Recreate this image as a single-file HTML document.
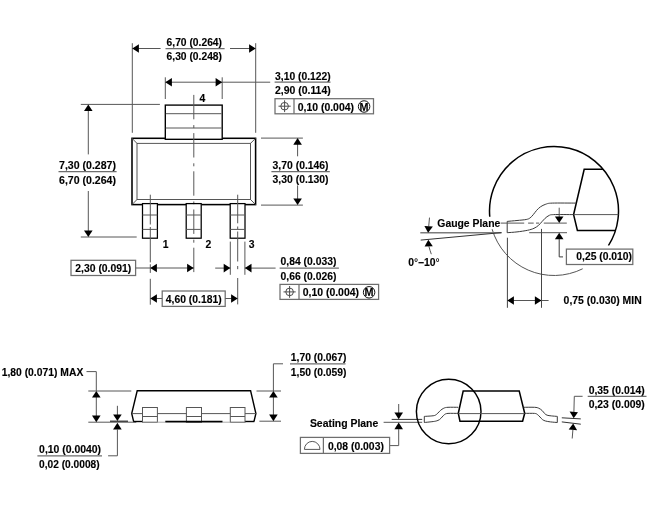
<!DOCTYPE html>
<html><head><meta charset="utf-8"><title>Package drawing</title>
<style>
html,body{margin:0;padding:0;background:#fff;}
body{width:650px;height:509px;overflow:hidden;}
svg{display:block;}
text{font-family:"Liberation Sans",sans-serif;font-weight:bold;fill:#000;stroke:#000;stroke-width:0.12px;}
</style></head><body>
<svg width="650" height="509" viewBox="0 0 650 509">
<rect x="0" y="0" width="650" height="509" fill="#fff"/>
<defs><filter id="bl" x="0" y="0" width="650" height="509" filterUnits="userSpaceOnUse"><feGaussianBlur stdDeviation="0.32"/></filter></defs>
<g filter="url(#bl)">
<rect x="0" y="0" width="650" height="509" fill="#fff"/>
<line x1="132.3" y1="43.2" x2="132.3" y2="132.8" stroke="#575757" stroke-width="1.0" />
<line x1="255.7" y1="43.2" x2="255.7" y2="132.8" stroke="#575757" stroke-width="1.0" />
<line x1="132.3" y1="48.5" x2="160.6" y2="48.5" stroke="#575757" stroke-width="1.0" />
<line x1="230" y1="48.5" x2="255.7" y2="48.5" stroke="#575757" stroke-width="1.0" />
<polygon points="132.30,48.50 138.90,44.20 138.90,52.80" fill="#000"/>
<polygon points="255.70,48.50 249.10,44.20 249.10,52.80" fill="#000"/>
<text x="166.6" y="46.3" font-size="10.4" text-anchor="start" textLength="55.4" lengthAdjust="spacingAndGlyphs">6,70 (0.264)</text>
<line x1="165.5" y1="48.5" x2="224.6" y2="48.5" stroke="#6e6e6e" stroke-width="1.25" />
<text x="166.6" y="60.3" font-size="10.4" text-anchor="start" textLength="55.4" lengthAdjust="spacingAndGlyphs">6,30 (0.248)</text>
<line x1="165.3" y1="77.3" x2="165.3" y2="99" stroke="#575757" stroke-width="1.0" />
<line x1="222.2" y1="77.3" x2="222.2" y2="99" stroke="#575757" stroke-width="1.0" />
<line x1="165.3" y1="82.2" x2="270.2" y2="82.2" stroke="#575757" stroke-width="1.0" />
<polygon points="165.30,82.20 171.90,77.90 171.90,86.50" fill="#000"/>
<polygon points="222.20,82.20 215.60,77.90 215.60,86.50" fill="#000"/>
<text x="275.1" y="79.7" font-size="10.4" text-anchor="start" textLength="55.7" lengthAdjust="spacingAndGlyphs">3,10 (0.122)</text>
<line x1="274.6" y1="82.2" x2="330.5" y2="82.2" stroke="#6e6e6e" stroke-width="1.25" />
<text x="275.0" y="94.3" font-size="10.4" text-anchor="start" textLength="55.7" lengthAdjust="spacingAndGlyphs">2,90 (0.114)</text>
<rect x="275" y="98.7" width="98.5" height="15.1" stroke="#6e6e6e" stroke-width="1.25" fill="none"/>
<line x1="294" y1="98.7" x2="294" y2="113.8" stroke="#6e6e6e" stroke-width="1.25" />
<circle cx="284.6" cy="106.2" r="3.8" stroke="#4a4a4a" stroke-width="1" fill="none"/>
<line x1="278.5" y1="106.2" x2="290.70000000000005" y2="106.2" stroke="#4a4a4a" stroke-width="1.0" />
<line x1="284.6" y1="100.3" x2="284.6" y2="112.10000000000001" stroke="#4a4a4a" stroke-width="1.0" />
<text x="297.7" y="110.5" font-size="10.4" text-anchor="start" textLength="56.3" lengthAdjust="spacingAndGlyphs">0,10 (0.004)</text>
<circle cx="364.1" cy="106.5" r="5.75" stroke="#111" stroke-width="1.0" fill="none"/>
<text x="363.9" y="110.6" font-size="10.8" text-anchor="middle">M</text>
<text x="199.6" y="101.8" font-size="10.4" text-anchor="start">4</text>
<rect x="132" y="138.3" width="123.6" height="66.3" stroke="#000" stroke-width="1.55" fill="none"/>
<rect x="137" y="143.4" width="113.5" height="56.1" stroke="#575757" stroke-width="1.0" fill="none"/>
<line x1="132" y1="138.3" x2="137" y2="143.4" stroke="#575757" stroke-width="1.0" />
<line x1="255.6" y1="138.3" x2="250.5" y2="143.4" stroke="#575757" stroke-width="1.0" />
<line x1="132" y1="204.6" x2="137" y2="199.5" stroke="#575757" stroke-width="1.0" />
<line x1="255.6" y1="204.6" x2="250.5" y2="199.5" stroke="#575757" stroke-width="1.0" />
<rect x="165.3" y="105.1" width="56.9" height="34.2" stroke="#000" stroke-width="1.35" fill="#fff"/>
<line x1="165.9" y1="113.7" x2="221.6" y2="113.7" stroke="#575757" stroke-width="1.0" />
<line x1="165.9" y1="128" x2="221.6" y2="128" stroke="#575757" stroke-width="1.0" />
<line x1="193.8" y1="94.9" x2="193.8" y2="272.8" stroke="#575757" stroke-width="1.0" stroke-dasharray="24.4 5.8 3 5"/>
<rect x="142.5" y="203.6" width="14.9" height="34.6" stroke="#000" stroke-width="1.25" fill="#fff"/>
<line x1="142.5" y1="215" x2="157.4" y2="215" stroke="#575757" stroke-width="1.0" />
<line x1="142.5" y1="229.4" x2="157.4" y2="229.4" stroke="#575757" stroke-width="1.0" />
<rect x="186.2" y="203.6" width="15.0" height="34.6" stroke="#000" stroke-width="1.25" fill="#fff"/>
<line x1="186.2" y1="215" x2="201.2" y2="215" stroke="#575757" stroke-width="1.0" />
<line x1="186.2" y1="229.4" x2="201.2" y2="229.4" stroke="#575757" stroke-width="1.0" />
<rect x="230.2" y="203.6" width="14.8" height="34.6" stroke="#000" stroke-width="1.25" fill="#fff"/>
<line x1="230.2" y1="215" x2="245" y2="215" stroke="#575757" stroke-width="1.0" />
<line x1="230.2" y1="229.4" x2="245" y2="229.4" stroke="#575757" stroke-width="1.0" />
<clipPath id="l2"><rect x="187" y="204.5" width="13.4" height="33"/></clipPath>
<line x1="193.8" y1="94.9" x2="193.8" y2="272.8" stroke="#575757" stroke-width="1.0" stroke-dasharray="24.4 5.8 3 5" clip-path="url(#l2)"/>
<line x1="150.3" y1="194.7" x2="150.3" y2="224.5" stroke="#575757" stroke-width="1.0" />
<line x1="150.3" y1="227" x2="150.3" y2="262.4" stroke="#575757" stroke-width="1.0" />
<line x1="150.3" y1="264.3" x2="150.3" y2="272.9" stroke="#575757" stroke-width="1.0" />
<line x1="150.3" y1="278.8" x2="150.3" y2="304.7" stroke="#575757" stroke-width="1.0" />
<line x1="237.7" y1="194.7" x2="237.7" y2="223.3" stroke="#575757" stroke-width="1.0" />
<line x1="237.7" y1="226.5" x2="237.7" y2="229" stroke="#575757" stroke-width="1.0" />
<line x1="237.7" y1="231.5" x2="237.7" y2="261.5" stroke="#575757" stroke-width="1.0" />
<line x1="237.7" y1="266" x2="237.7" y2="269.2" stroke="#575757" stroke-width="1.0" />
<line x1="237.7" y1="278" x2="237.7" y2="304.4" stroke="#575757" stroke-width="1.0" />
<line x1="230.3" y1="241.6" x2="230.3" y2="274.8" stroke="#575757" stroke-width="1.0" />
<line x1="244.9" y1="241.6" x2="244.9" y2="274.8" stroke="#575757" stroke-width="1.0" />
<text x="162.8" y="247.9" font-size="10.4" text-anchor="start">1</text>
<text x="205.6" y="247.9" font-size="10.4" text-anchor="start">2</text>
<text x="248.7" y="247.9" font-size="10.4" text-anchor="start">3</text>
<line x1="80.8" y1="104.4" x2="159.9" y2="104.4" stroke="#575757" stroke-width="1.0" />
<line x1="80.8" y1="237" x2="136.7" y2="237" stroke="#575757" stroke-width="1.0" />
<line x1="88.3" y1="110" x2="88.3" y2="154.4" stroke="#575757" stroke-width="1.0" />
<line x1="88.3" y1="191" x2="88.3" y2="231" stroke="#575757" stroke-width="1.0" />
<polygon points="88.30,104.40 84.00,111.00 92.60,111.00" fill="#000"/>
<polygon points="88.30,237.00 84.00,230.40 92.60,230.40" fill="#000"/>
<text x="59.0" y="168.6" font-size="10.4" text-anchor="start" textLength="57" lengthAdjust="spacingAndGlyphs">7,30 (0.287)</text>
<line x1="58.5" y1="171.7" x2="116.6" y2="171.7" stroke="#6e6e6e" stroke-width="1.25" />
<text x="59.0" y="183.5" font-size="10.4" text-anchor="start" textLength="57" lengthAdjust="spacingAndGlyphs">6,70 (0.264)</text>
<line x1="261" y1="138.1" x2="302.9" y2="138.1" stroke="#575757" stroke-width="1.0" />
<line x1="261" y1="205.1" x2="302.9" y2="205.1" stroke="#575757" stroke-width="1.0" />
<line x1="297.6" y1="144" x2="297.6" y2="156.3" stroke="#575757" stroke-width="1.0" />
<line x1="297.6" y1="185.4" x2="297.6" y2="199" stroke="#575757" stroke-width="1.0" />
<polygon points="297.60,138.10 293.30,144.70 301.90,144.70" fill="#000"/>
<polygon points="297.60,205.10 293.30,198.50 301.90,198.50" fill="#000"/>
<text x="272.6" y="169.0" font-size="10.4" text-anchor="start" textLength="56" lengthAdjust="spacingAndGlyphs">3,70 (0.146)</text>
<line x1="271.4" y1="171.5" x2="329.8" y2="171.5" stroke="#6e6e6e" stroke-width="1.25" />
<text x="272.6" y="182.8" font-size="10.4" text-anchor="start" textLength="56" lengthAdjust="spacingAndGlyphs">3,30 (0.130)</text>
<rect x="71" y="260.3" width="64.6" height="15.2" stroke="#6e6e6e" stroke-width="1.25" fill="none"/>
<text x="75.3" y="272.0" font-size="10.4" text-anchor="start" textLength="56" lengthAdjust="spacingAndGlyphs">2,30 (0.091)</text>
<line x1="135.6" y1="268" x2="194" y2="268" stroke="#575757" stroke-width="1.0" />
<polygon points="150.30,268.00 156.90,263.70 156.90,272.30" fill="#000"/>
<polygon points="193.70,268.00 187.10,263.70 187.10,272.30" fill="#000"/>
<rect x="162.2" y="291" width="63.0" height="15.4" stroke="#6e6e6e" stroke-width="1.25" fill="none"/>
<text x="165.8" y="302.8" font-size="10.4" text-anchor="start" textLength="55.8" lengthAdjust="spacingAndGlyphs">4,60 (0.181)</text>
<line x1="150.3" y1="298.5" x2="162.2" y2="298.5" stroke="#575757" stroke-width="1.0" />
<line x1="225.2" y1="298.5" x2="237.7" y2="298.5" stroke="#575757" stroke-width="1.0" />
<polygon points="150.30,298.50 156.90,294.20 156.90,302.80" fill="#000"/>
<polygon points="237.70,298.50 231.10,294.20 231.10,302.80" fill="#000"/>
<line x1="215.2" y1="268.1" x2="230.3" y2="268.1" stroke="#575757" stroke-width="1.0" />
<line x1="244.9" y1="268.1" x2="275.6" y2="268.1" stroke="#575757" stroke-width="1.0" />
<polygon points="230.30,268.10 223.70,263.80 223.70,272.40" fill="#000"/>
<polygon points="244.90,268.10 251.50,263.80 251.50,272.40" fill="#000"/>
<text x="280.6" y="265.1" font-size="10.4" text-anchor="start" textLength="55.8" lengthAdjust="spacingAndGlyphs">0,84 (0.033)</text>
<line x1="279.6" y1="268.1" x2="338.9" y2="268.1" stroke="#6e6e6e" stroke-width="1.25" />
<text x="280.6" y="279.8" font-size="10.4" text-anchor="start" textLength="55.8" lengthAdjust="spacingAndGlyphs">0,66 (0.026)</text>
<rect x="280" y="284.4" width="98.6" height="15.0" stroke="#6e6e6e" stroke-width="1.25" fill="none"/>
<line x1="299" y1="284.4" x2="299" y2="299.4" stroke="#6e6e6e" stroke-width="1.25" />
<circle cx="289.6" cy="291.9" r="3.8" stroke="#4a4a4a" stroke-width="1" fill="none"/>
<line x1="283.5" y1="291.9" x2="295.70000000000005" y2="291.9" stroke="#4a4a4a" stroke-width="1.0" />
<line x1="289.6" y1="286.0" x2="289.6" y2="297.79999999999995" stroke="#4a4a4a" stroke-width="1.0" />
<text x="302.7" y="296.0" font-size="10.4" text-anchor="start" textLength="56.3" lengthAdjust="spacingAndGlyphs">0,10 (0.004)</text>
<circle cx="369.1" cy="292.3" r="5.75" stroke="#111" stroke-width="1.0" fill="none"/>
<text x="368.9" y="296.1" font-size="10.8" text-anchor="middle">M</text>
<line x1="88.3" y1="391" x2="131.3" y2="391" stroke="#575757" stroke-width="1.0" />
<line x1="88.3" y1="422.2" x2="136.3" y2="422.2" stroke="#575757" stroke-width="1.0" />
<path d="M86.5,371.6 H96.3 V391" stroke="#575757" stroke-width="1.0" fill="none" />
<line x1="96.3" y1="397" x2="96.3" y2="416" stroke="#575757" stroke-width="1.0" />
<polygon points="96.30,391.00 92.00,397.60 100.60,397.60" fill="#000"/>
<polygon points="96.30,422.20 92.00,415.60 100.60,415.60" fill="#000"/>
<text x="1.7" y="376.3" font-size="10.4" text-anchor="start" textLength="81.6" lengthAdjust="spacingAndGlyphs">1,80 (0.071) MAX</text>
<line x1="110" y1="421.2" x2="128" y2="421.2" stroke="#222" stroke-width="1.2" />
<line x1="117.4" y1="405.8" x2="117.4" y2="415" stroke="#575757" stroke-width="1.0" />
<polygon points="117.40,421.00 113.10,414.40 121.70,414.40" fill="#000"/>
<polygon points="117.40,422.80 113.10,429.40 121.70,429.40" fill="#000"/>
<path d="M117.4,429 V455.8 H108.1" stroke="#575757" stroke-width="1.0" fill="none" />
<text x="39.1" y="453.1" font-size="10.4" text-anchor="start" textLength="62" lengthAdjust="spacingAndGlyphs">0,10 (0.0040)</text>
<line x1="37.4" y1="455.8" x2="102" y2="455.8" stroke="#6e6e6e" stroke-width="1.25" />
<text x="39.1" y="467.9" font-size="10.4" text-anchor="start" textLength="60.5" lengthAdjust="spacingAndGlyphs">0,02 (0.0008)</text>
<path d="M133.6,421.4 L131.7,413.5 L137.2,390.8 H250.6 L255.9,413.5 L254,421.4" stroke="#000" stroke-width="1.4" fill="none" stroke-linejoin="miter"/>
<line x1="133.2" y1="421.5" x2="142.5" y2="421.5" stroke="#000" stroke-width="1.4" />
<line x1="245" y1="421.5" x2="254.4" y2="421.5" stroke="#000" stroke-width="1.4" />
<line x1="131.7" y1="413.6" x2="142.5" y2="413.6" stroke="#575757" stroke-width="1.0" />
<line x1="157.4" y1="413.6" x2="186.4" y2="413.6" stroke="#575757" stroke-width="1.0" />
<line x1="201.5" y1="413.6" x2="230.3" y2="413.6" stroke="#575757" stroke-width="1.0" />
<line x1="245" y1="413.6" x2="255.9" y2="413.6" stroke="#575757" stroke-width="1.0" />
<rect x="142.5" y="407.5" width="14.9" height="14.7" stroke="#575757" stroke-width="1.0" fill="none"/>
<line x1="142.5" y1="416.5" x2="157.4" y2="416.5" stroke="#575757" stroke-width="1.0" />
<rect x="186.4" y="407.5" width="15.1" height="14.7" stroke="#575757" stroke-width="1.0" fill="none"/>
<line x1="186.4" y1="416.5" x2="201.5" y2="416.5" stroke="#575757" stroke-width="1.0" />
<rect x="230.3" y="407.5" width="14.7" height="14.7" stroke="#575757" stroke-width="1.0" fill="none"/>
<line x1="230.3" y1="416.5" x2="245" y2="416.5" stroke="#575757" stroke-width="1.0" />
<line x1="157.4" y1="422.2" x2="165.3" y2="422.2" stroke="#aaa" stroke-width="1.0" />
<line x1="222.5" y1="422.2" x2="230.3" y2="422.2" stroke="#aaa" stroke-width="1.0" />
<line x1="165.3" y1="421.7" x2="222.5" y2="421.7" stroke="#000" stroke-width="1.7" />
<line x1="256.5" y1="391" x2="281" y2="391" stroke="#575757" stroke-width="1.0" />
<line x1="259.4" y1="421.2" x2="281" y2="421.2" stroke="#575757" stroke-width="1.0" />
<path d="M283,363.8 H273.4 V391" stroke="#575757" stroke-width="1.0" fill="none" />
<line x1="273.4" y1="397" x2="273.4" y2="415" stroke="#575757" stroke-width="1.0" />
<polygon points="273.40,391.00 269.10,397.60 277.70,397.60" fill="#000"/>
<polygon points="273.40,421.20 269.10,414.60 277.70,414.60" fill="#000"/>
<text x="290.8" y="361.3" font-size="10.4" text-anchor="start" textLength="55.6" lengthAdjust="spacingAndGlyphs">1,70 (0.067)</text>
<line x1="290" y1="363.8" x2="345.5" y2="363.8" stroke="#6e6e6e" stroke-width="1.25" />
<text x="290.8" y="375.9" font-size="10.4" text-anchor="start" textLength="55.6" lengthAdjust="spacingAndGlyphs">1,50 (0.059)</text>
<text x="309.9" y="426.8" font-size="10.4" text-anchor="start" textLength="68.4" lengthAdjust="spacingAndGlyphs">Seating Plane</text>
<line x1="383.6" y1="422.3" x2="422.2" y2="422.3" stroke="#575757" stroke-width="1.0" />
<line x1="391.7" y1="419.4" x2="422.2" y2="419.4" stroke="#333" stroke-width="1.0" />
<line x1="398.7" y1="404" x2="398.7" y2="413" stroke="#575757" stroke-width="1.0" />
<polygon points="398.70,419.20 394.40,412.60 403.00,412.60" fill="#000"/>
<polygon points="398.70,422.60 394.40,429.20 403.00,429.20" fill="#000"/>
<path d="M398.7,429 V445.6 H389.6" stroke="#575757" stroke-width="1.0" fill="none" />
<rect x="300.4" y="437.4" width="89.2" height="16.0" stroke="#6e6e6e" stroke-width="1.25" fill="none"/>
<line x1="323.4" y1="437.4" x2="323.4" y2="453.4" stroke="#6e6e6e" stroke-width="1.25" />
<path d="M304.4,449.4 A7.8,8 0 0 1 320,449.4 Z" stroke="#575757" stroke-width="1.0" fill="none" />
<text x="327.9" y="449.8" font-size="10.4" text-anchor="start" textLength="56" lengthAdjust="spacingAndGlyphs">0,08 (0.003)</text>
<circle cx="448.7" cy="411.5" r="32.3" stroke="#000" stroke-width="1.45" fill="none"/>
<path d="M460,421.3 L458.3,413.3 L463.2,390.9 H519.2 L524.7,413.3 L522.6,421.3 Z" stroke="#000" stroke-width="1.55" fill="none" />
<line x1="458.3" y1="413.6" x2="524.7" y2="413.6" stroke="#575757" stroke-width="1.0" />
<path d="M458.3,407.3 C456.58,407.30 450.42,407.15 448.00,407.30 C445.58,407.45 445.07,407.67 443.80,408.20 C442.53,408.73 441.40,409.67 440.40,410.50 C439.40,411.33 438.65,412.42 437.80,413.20 C436.95,413.98 436.28,414.75 435.30,415.20 C434.32,415.65 433.73,415.70 431.90,415.90 C430.07,416.10 425.57,416.32 424.30,416.40 L424.3,422.5 C425.57,422.37 429.92,421.95 431.90,421.70 C433.88,421.45 434.93,421.35 436.20,421.00 C437.47,420.65 438.52,420.27 439.50,419.60 C440.48,418.93 441.25,417.85 442.10,417.00 C442.95,416.15 443.62,415.10 444.60,414.50 C445.58,413.90 445.72,413.58 448.00,413.40 C450.28,413.22 456.58,413.40 458.30,413.40" stroke="#3a3a3a" stroke-width="1.0" fill="none" />
<path d="M523.6,407.3 C525.42,407.30 531.98,407.15 534.50,407.30 C537.02,407.45 537.43,407.67 538.70,408.20 C539.97,408.73 541.12,409.62 542.10,410.50 C543.08,411.38 543.77,412.72 544.60,413.50 C545.43,414.28 545.97,414.80 547.10,415.20 C548.23,415.60 549.70,415.70 551.40,415.90 C553.10,416.10 556.32,416.32 557.30,416.40 L557.3,422.5 C556.17,422.40 552.47,422.15 550.50,421.90 C548.53,421.65 546.83,421.38 545.50,421.00 C544.17,420.62 543.42,420.27 542.50,419.60 C541.58,418.93 540.85,417.85 540.00,417.00 C539.15,416.15 538.32,415.10 537.40,414.50 C536.48,413.90 536.62,413.58 534.50,413.40 C532.38,413.22 526.33,413.40 524.70,413.40" stroke="#3a3a3a" stroke-width="1.0" fill="none" />
<line x1="561.8" y1="417.8" x2="580.8" y2="418.9" stroke="#333" stroke-width="1.0" />
<line x1="561.8" y1="421.9" x2="580.8" y2="424.2" stroke="#333" stroke-width="1.0" />
<path d="M582.6,396.3 H574.3 L573.9,412" stroke="#575757" stroke-width="1.0" fill="none" />
<polygon points="573.7,418.2 569.6,411.6 578,412.2" fill="#000"/>
<polygon points="573.2,423.4 568.7,429.6 577.1,430.2" fill="#000"/>
<line x1="572.9" y1="429.8" x2="572.2" y2="438.5" stroke="#575757" stroke-width="1.0" />
<text x="588.7" y="394.1" font-size="10.4" text-anchor="start" textLength="56" lengthAdjust="spacingAndGlyphs">0,35 (0.014)</text>
<line x1="587.7" y1="396.3" x2="646.5" y2="396.3" stroke="#6e6e6e" stroke-width="1.25" />
<text x="588.7" y="408.4" font-size="10.4" text-anchor="start" textLength="56" lengthAdjust="spacingAndGlyphs">0,23 (0.009)</text>
<path d="M489.76,216.73 A64.5,64.5 0 1 1 608.40,245.66" stroke="#000" stroke-width="1.5" fill="none" />
<path d="M582.68,268.77 A64.5,64.5 0 0 1 492.12,229.21" stroke="#555" stroke-width="1.0" fill="none" />
<clipPath id="cc"><circle cx="554" cy="211" r="64.5"/></clipPath>
<g clip-path="url(#cc)">
<path d="M640,169.2 H584.2 L573.6,214.6 L577.4,230.4 H640" stroke="#000" stroke-width="1.55" fill="none" />
<line x1="573.6" y1="214.6" x2="640" y2="214.6" stroke="#575757" stroke-width="1.0" />
</g>
<path d="M575.8,203.1 C571.88,203.10 557.30,202.92 552.30,203.10 C547.30,203.28 547.77,203.58 545.80,204.20 C543.83,204.82 542.03,205.77 540.50,206.80 C538.97,207.83 537.80,209.10 536.60,210.40 C535.40,211.70 534.38,213.35 533.30,214.60 C532.22,215.85 531.28,217.08 530.10,217.90 C528.92,218.72 528.38,219.07 526.20,219.50 C524.02,219.93 520.17,220.18 517.00,220.50 C513.83,220.82 508.83,221.25 507.20,221.40 L507.2,232.7 C508.83,232.57 513.62,232.30 517.00,231.90 C520.38,231.50 524.67,230.90 527.50,230.30 C530.33,229.70 532.15,229.13 534.00,228.30 C535.85,227.47 537.30,226.38 538.60,225.30 C539.90,224.22 540.72,222.97 541.80,221.80 C542.88,220.63 543.90,219.35 545.10,218.30 C546.30,217.25 547.58,216.12 549.00,215.50 C550.42,214.88 549.50,214.75 553.60,214.60 C557.70,214.45 570.27,214.60 573.60,214.60" stroke="#3a3a3a" stroke-width="1.0" fill="none" />
<line x1="500.6" y1="223.1" x2="524.2" y2="223.1" stroke="#575757" stroke-width="1.0" />
<line x1="528.1" y1="223.1" x2="533.7" y2="223.1" stroke="#575757" stroke-width="1.0" />
<line x1="536" y1="223.1" x2="539.2" y2="223.1" stroke="#575757" stroke-width="1.0" />
<line x1="543.8" y1="223.1" x2="566.8" y2="223.1" stroke="#575757" stroke-width="1.0" />
<line x1="529.2" y1="232.7" x2="567" y2="232.7" stroke="#575757" stroke-width="1.0" />
<line x1="559.2" y1="207.7" x2="559.2" y2="217" stroke="#575757" stroke-width="1.0" />
<polygon points="559.20,223.10 554.90,216.50 563.50,216.50" fill="#000"/>
<polygon points="559.20,232.70 554.90,239.30 563.50,239.30" fill="#000"/>
<path d="M559.2,239 V256.9 H566.4" stroke="#3a3a3a" stroke-width="1.0" fill="none" />
<rect x="563" y="245.7" width="73.2" height="22.3" stroke="#fff" stroke-width="0" fill="#fff"/>
<rect x="566.4" y="249.1" width="66.4" height="15.4" stroke="#6e6e6e" stroke-width="1.25" fill="#fff"/>
<text x="576.3" y="259.8" font-size="10.4" text-anchor="start" textLength="55.7" lengthAdjust="spacingAndGlyphs">0,25 (0.010)</text>
<line x1="507.4" y1="237.7" x2="507.4" y2="307.8" stroke="#444" stroke-width="1.0" />
<line x1="541.5" y1="228.9" x2="541.5" y2="307.8" stroke="#444" stroke-width="1.0" />
<line x1="507.3" y1="300.5" x2="548.6" y2="300.5" stroke="#575757" stroke-width="1.0" />
<polygon points="507.30,300.50 513.90,296.20 513.90,304.80" fill="#000"/>
<polygon points="541.50,300.50 534.90,296.20 534.90,304.80" fill="#000"/>
<text x="563.6" y="303.5" font-size="10.4" text-anchor="start" textLength="78.1" lengthAdjust="spacingAndGlyphs">0,75 (0.030) MIN</text>
<text x="437.3" y="227.4" font-size="10.4" text-anchor="start" textLength="63" lengthAdjust="spacingAndGlyphs">Gauge Plane</text>
<line x1="420.3" y1="232.7" x2="501.5" y2="232.7" stroke="#7c7c7c" stroke-width="1.5" />
<line x1="420.7" y1="240.1" x2="501.5" y2="232.6" stroke="#333" stroke-width="1.0" />
<line x1="429.5" y1="217.6" x2="428.7" y2="226.5" stroke="#575757" stroke-width="1.0" />
<polygon points="428.1,232.7 424.4,226 432.9,226.6" fill="#000"/>
<polygon points="428.3,239.7 424.6,246.6 432.8,246.2" fill="#000"/>
<path d="M428.8,246 Q430,250.5 431.3,254.2" stroke="#575757" stroke-width="1.0" fill="none" />
<text x="408.3" y="265.9" font-size="10.4">0<tspan font-weight="normal">°</tspan>–10<tspan font-weight="normal">°</tspan></text>
</g>
</svg>
</body></html>
